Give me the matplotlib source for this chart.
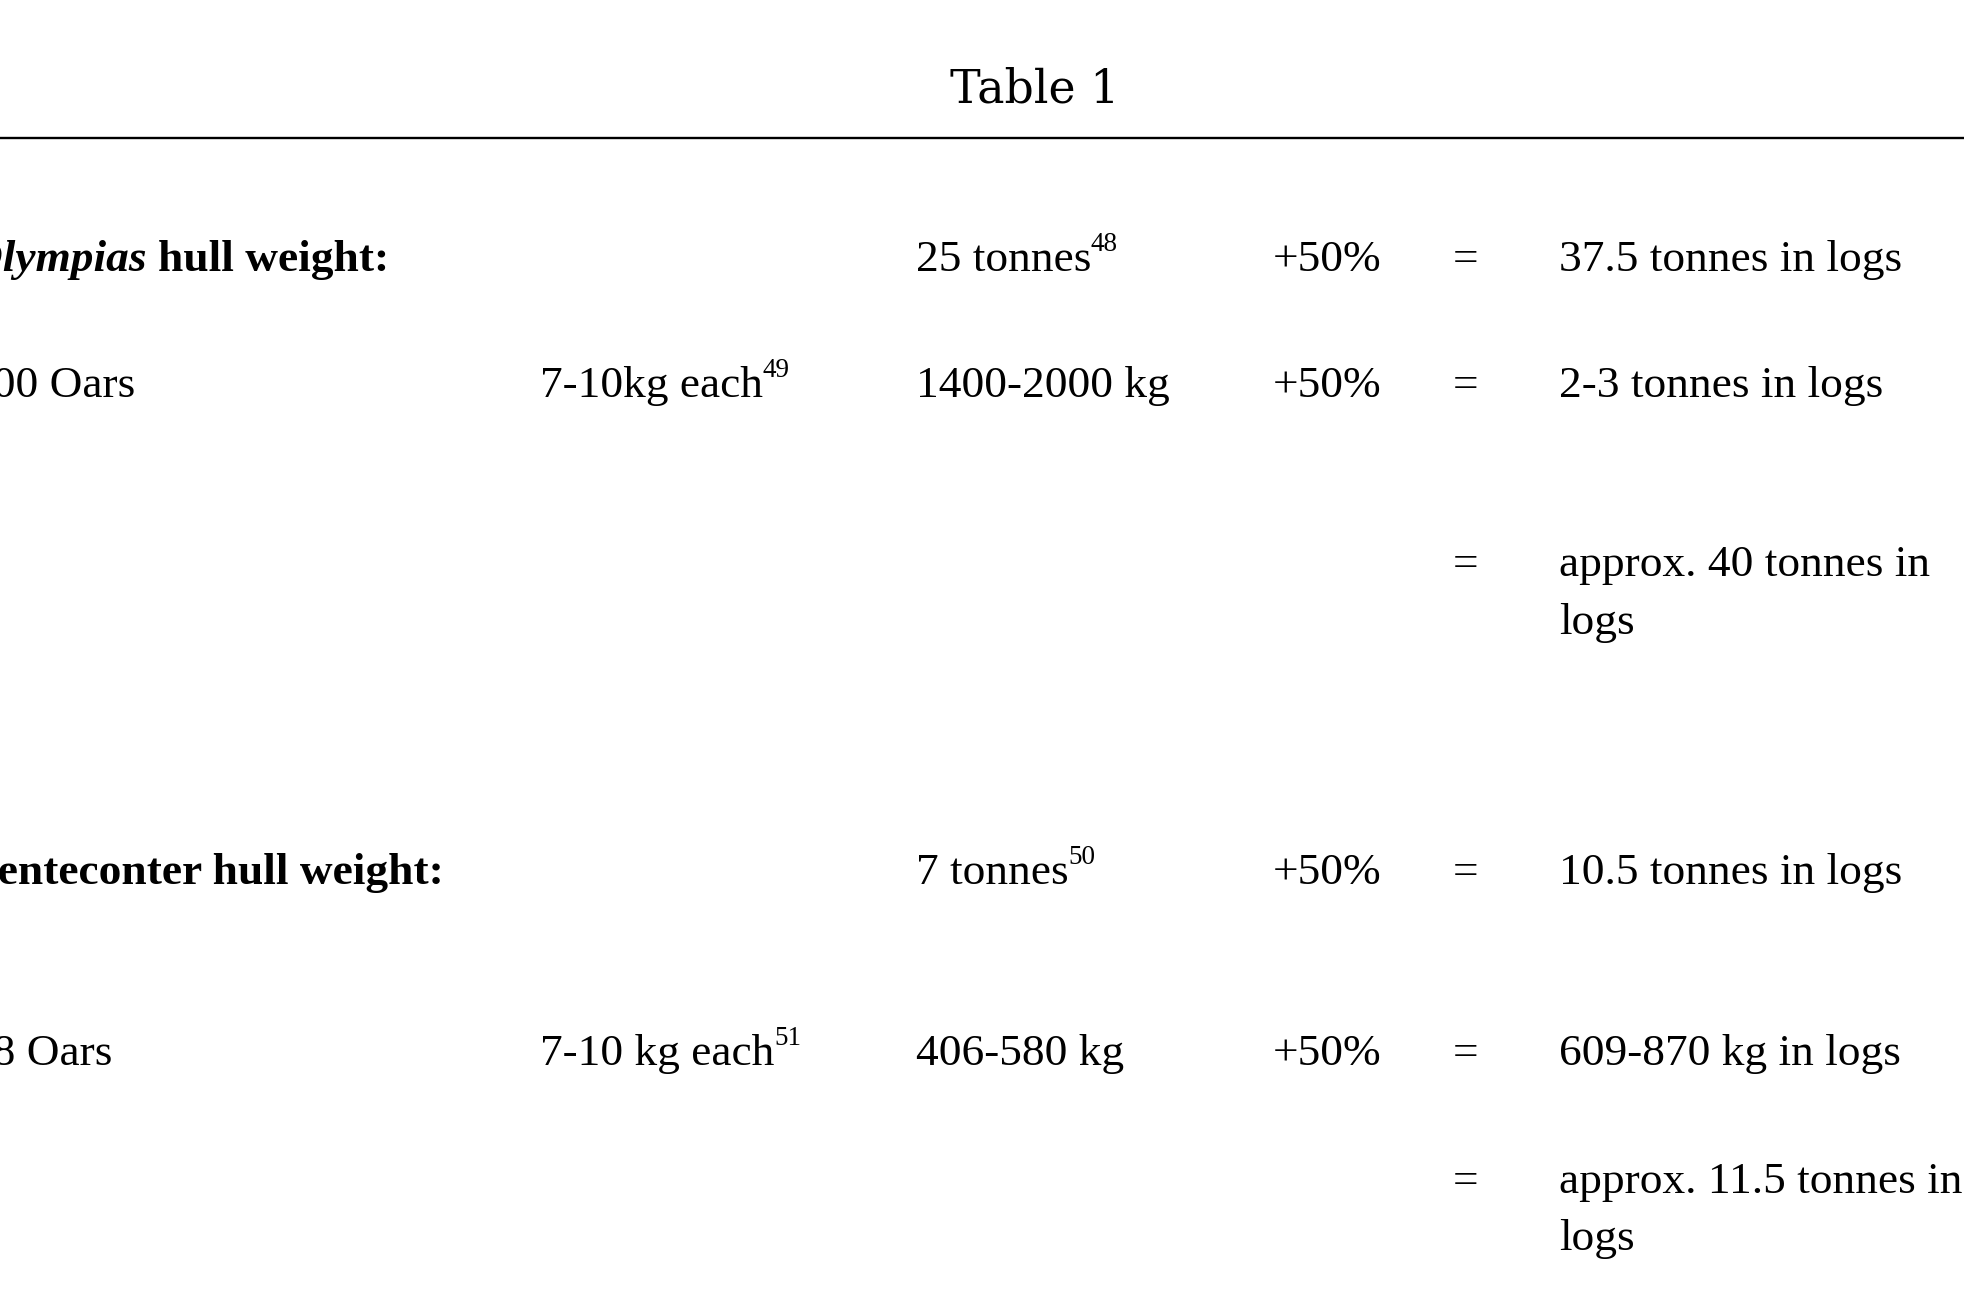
import matplotlib
matplotlib.use("Agg")
import matplotlib.pyplot as plt

# table contents, one entry per row
labels = ["Olympias hull weight:", "200 Oars", "", "Penteconter hull weight:", "58 Oars", ""]
label_bold = [True, False, False, True, False, False]
italic_names = ["Olympias"]
per_oar = ["", "7-10kg each", "", "", "7-10 kg each", ""]
per_oar_note = ["", "49", "", "", "51", ""]
weights = ["25 tonnes", "1400-2000 kg", "", "7 tonnes", "406-580 kg", ""]
weight_note = ["48", "", "", "50", "", ""]
extra = ["+50%", "+50%", "", "+50%", "+50%", ""]
equals = ["=", "=", "=", "=", "=", "="]
results = ["37.5 tonnes in logs", "2-3 tonnes in logs", "approx. 40 tonnes in\nlogs",
           "10.5 tonnes in logs", "609-870 kg in logs", "approx. 11.5 tonnes in\nlogs"]
title = "Table 1"

# layout (reference pixel grid 1568 x 1045)
W, H = 1568, 1045
row_base = [216, 317, 460, 706, 850, 952]
line_gap = 46
col_x = [-24, 431, 731, 1016, 1170, 1245]
FS = 32.7
SUP_FS = 19.5
SUP_RISE = 16

fig = plt.figure(figsize=(19.64, 13.09), dpi=100)
ax = fig.add_axes([0, 0, 1, 1])
ax.set_xlim(0, W)
ax.set_ylim(H, 0)
ax.axis("off")
renderer = fig.canvas.get_renderer()

body = dict(family="Liberation Serif", fontsize=FS, va="baseline", color="black")


def right_edge(t):
    bb = t.get_window_extent(renderer=renderer)
    return ax.transData.inverted().transform((bb.x1, bb.y0))[0]


def put(x, y, s, note="", **kw):
    opts = dict(body)
    opts.update(kw)
    t = ax.text(x, y, s, **opts)
    if note:
        xe = right_edge(t)
        ax.text(xe, y - SUP_RISE, note, family="Liberation Serif", fontsize=SUP_FS,
                va="baseline", color="black")
    return t


ax.text(826, 82, title, family="DejaVu Serif", fontsize=33, ha="center", va="baseline")
ax.plot([0, W], [110, 110], color="black", lw=1.7, solid_capstyle="butt")

for i, y in enumerate(row_base):
    lab = labels[i]
    if lab:
        if label_bold[i]:
            first, rest = lab.split(" ", 1)
            if first in italic_names:
                t = put(col_x[0], y, first + " ", fontweight="bold", fontstyle="italic")
                put(right_edge(t), y, rest, fontweight="bold")
            else:
                put(col_x[0], y, lab, fontweight="bold")
        else:
            put(col_x[0], y, lab)
    if per_oar[i]:
        put(col_x[1], y, per_oar[i], per_oar_note[i])
    if weights[i]:
        put(col_x[2], y, weights[i], weight_note[i])
    if extra[i]:
        put(col_x[3], y, extra[i])
    put(col_x[4], y, equals[i], ha="center")
    for j, line in enumerate(results[i].split("\n")):
        put(col_x[5], y + j * line_gap, line)

fig.savefig("out.png", dpi=100, facecolor="white")
